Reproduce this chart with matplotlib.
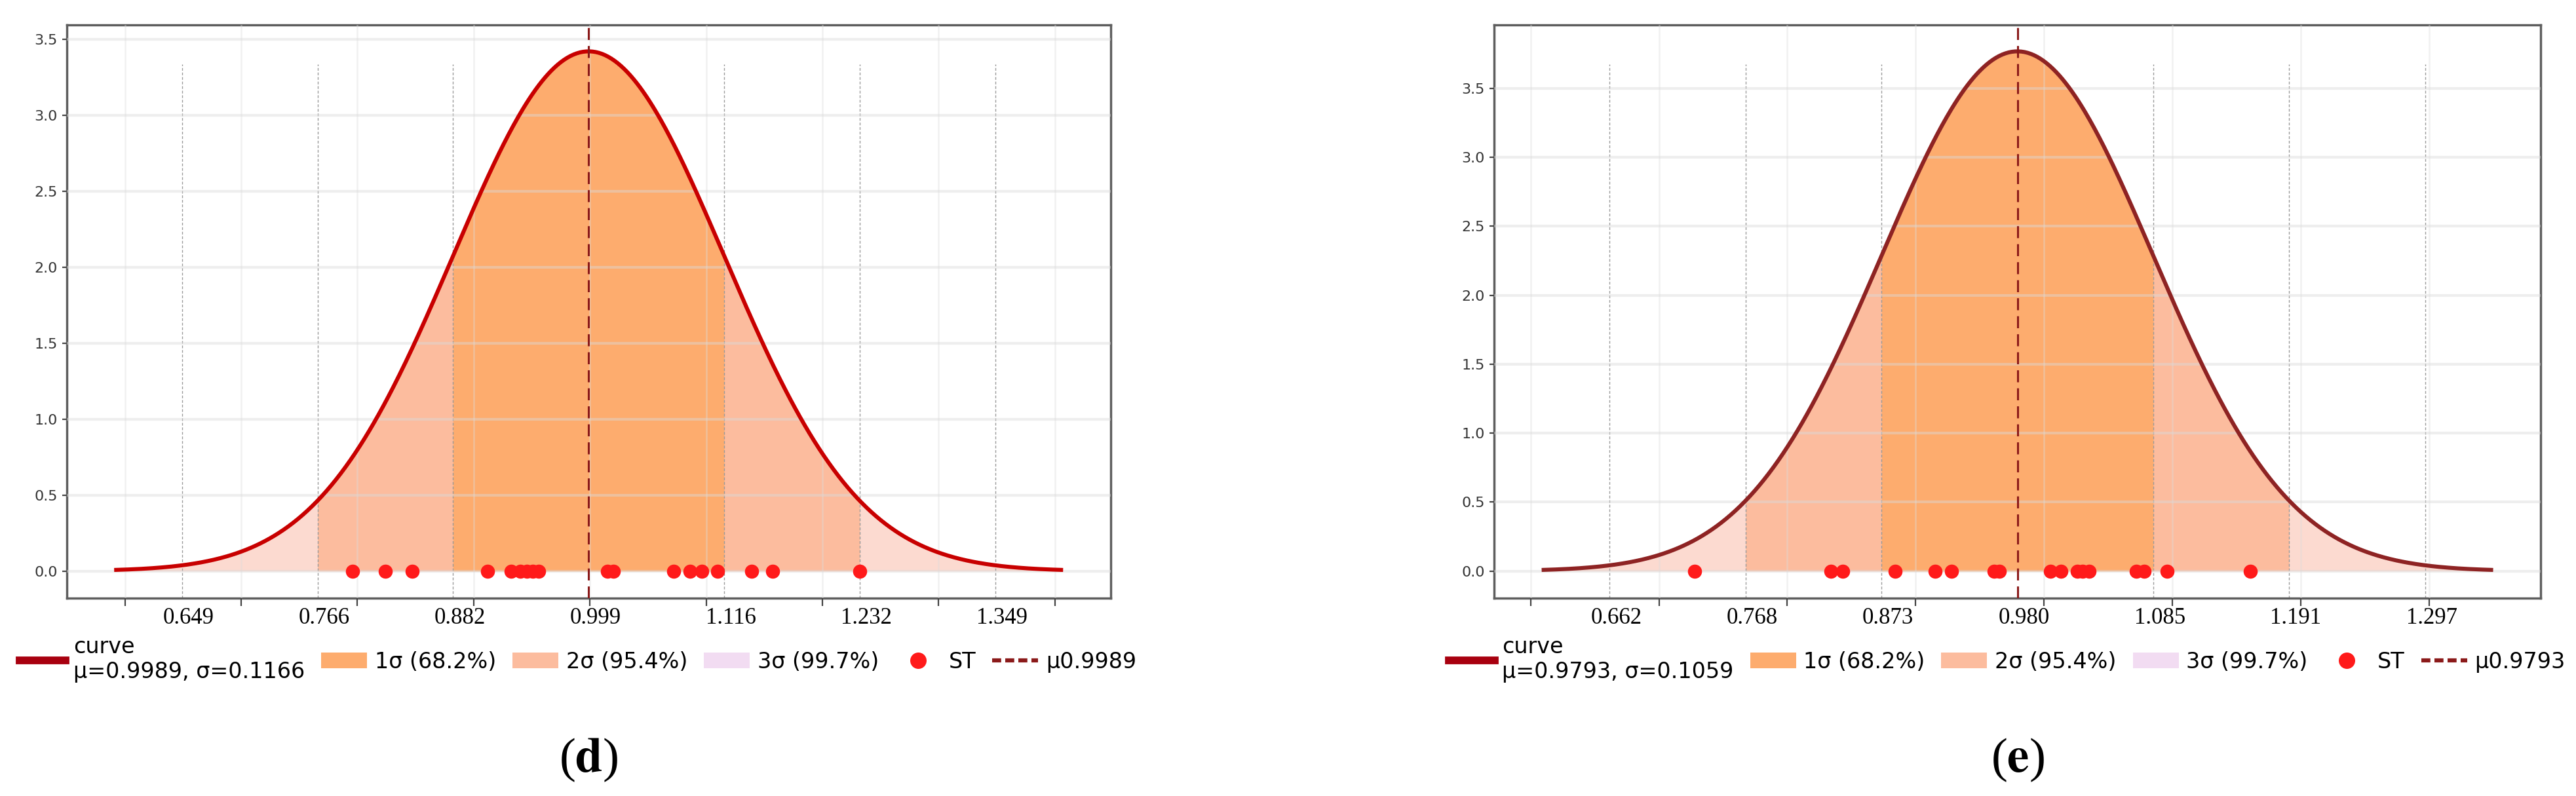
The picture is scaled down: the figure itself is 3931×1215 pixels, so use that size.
import numpy as np
import matplotlib
matplotlib.use("Agg")
from matplotlib import pyplot as plt
from matplotlib.lines import Line2D
from matplotlib.patches import Patch
from matplotlib.transforms import ScaledTranslation

plt.rcParams['mathtext.fontset'] = 'stix'

# panel (d)
mu_d = 0.9989
sigma_d = 0.1166
st_d = [0.796, 0.824, 0.847, 0.912, 0.932, 0.940, 0.946, 0.951, 0.956,
        1.015, 1.020, 1.072, 1.086, 1.096, 1.110, 1.139, 1.157, 1.232]
ticklabels_d = ["0.649", "0.766", "0.882", "0.999", "1.116", "1.232", "1.349"]

# panel (e)
mu_e = 0.9793
sigma_e = 0.1059
st_e = [0.728, 0.834, 0.843, 0.884, 0.915, 0.928, 0.961, 0.965, 1.005,
        1.013, 1.026, 1.030, 1.035, 1.072, 1.078, 1.096, 1.161]
ticklabels_e = ["0.662", "0.768", "0.873", "0.980", "1.085", "1.191", "1.297"]

band_labels = ["1σ (68.2%)", "2σ (95.4%)", "3σ (99.7%)"]

C1 = "#fdac6e"
C2 = "#fcbc9e"
C3 = "#fcdad0"
C3_LEG = "#f2dcf2"
MEAN_COLOR = "#8b1a1a"
DPI = 100
LEG_FONT = ['DejaVu Sans']


def pdf(x, mu, sigma):
    return np.exp(-0.5 * ((x - mu) / sigma) ** 2) / (sigma * np.sqrt(2 * np.pi))


def draw_panel(fig, ax, mu, sigma, st, ticklabels, curve_color, caption):
    peak = pdf(mu, mu, sigma)
    lo, hi = mu - 3.5 * sigma, mu + 3.5 * sigma
    x = np.linspace(lo, hi, 600)
    y = pdf(x, mu, sigma)

    # shaded bands (outer first)
    ax.fill_between(x, y, color=C3, lw=0, zorder=1)
    x2 = np.linspace(mu - 2 * sigma, mu + 2 * sigma, 400)
    ax.fill_between(x2, pdf(x2, mu, sigma), color=C2, lw=0, zorder=1.1)
    x1 = np.linspace(mu - sigma, mu + sigma, 300)
    ax.fill_between(x1, pdf(x1, mu, sigma), color=C1, lw=0, zorder=1.2)

    span = hi - lo
    ytop = 1.051 * peak
    ax.set_xlim(lo - 0.05 * span, hi + 0.05 * span)
    ax.set_ylim(-0.052 * peak, ytop)

    ks = np.arange(-3, 4)
    marks = mu + ks * sigma
    ax.vlines(marks[ks != 0], -0.052 * peak, 0.975 * peak, colors="#9a9a9a",
              linestyles=(0, (3, 2)), lw=1.0, zorder=2)

    ax.plot(x, y, color=curve_color, lw=4.4, zorder=3, solid_capstyle='butt')
    ax.axvline(mu, color=MEAN_COLOR, lw=2.2, ls=(0, (6, 3)), zorder=3)
    ax.plot(st, np.zeros(len(st)), 'o', color="#ff1a1a", ms=15.5, mew=0, zorder=4)

    # grid
    ax.set_axisbelow(False)
    ax.xaxis.grid(True, color="#dcdcdc", lw=1.8, alpha=0.4)
    ax.yaxis.grid(True, color="#dadada", lw=3.0, alpha=0.45)

    ax.set_xticks(np.arange(0.6, hi + 0.001, 0.1))
    ax.set_xticklabels([])
    ax.set_xticks(marks, minor=True)
    ax.set_xticklabels(ticklabels, minor=True, fontsize=25, family='Liberation Serif')
    ax.tick_params(axis='x', which='major', length=8.5, width=1.6, color="#444444")
    ax.tick_params(axis='x', which='minor', length=0, pad=10)
    for lab in ax.get_xticklabels(minor=True):
        lab.set_transform(lab.get_transform() + ScaledTranslation(10 / DPI, 0, fig.dpi_scale_trans))

    yt = np.arange(0, ytop, 0.5)
    ax.set_yticks(yt)
    ax.set_yticklabels([f"{v:.1f}" for v in yt])
    ax.tick_params(axis='y', length=5, width=1.6, color="#444444", labelsize=16,
                   labelcolor="#333333", pad=5)

    for sp in ax.spines.values():
        sp.set_color("#5e5e5e")
        sp.set_linewidth(2.5)

    handles = [
        Line2D([], [], color="#a8000f", lw=8.5),
        Patch(facecolor=C1, edgecolor='none'),
        Patch(facecolor=C2, edgecolor='none'),
        Patch(facecolor=C3_LEG, edgecolor='none'),
        Line2D([], [], ls='none', marker='o', ms=18, color="#ff1a1a", mew=0),
        Line2D([], [], color=MEAN_COLOR, lw=4.5, ls=(0, (2.2, 1.0))),
    ]
    labels = [f"curve\nμ={mu:.4f}, σ={sigma:.4f}"] + band_labels + ["ST", f"μ{mu:.4f}"]
    ax.legend(handles, labels, loc='center', bbox_to_anchor=(0.49, -0.107), ncol=6,
              frameon=False, prop={'family': LEG_FONT, 'size': 24}, handlelength=2.1,
              handletextpad=0.35, columnspacing=0.75, borderaxespad=0)

    pos = ax.get_position()
    fig.text(pos.x0 + pos.width / 2, 0.045, "(" + r"$\mathbf{" + caption + "}$" + ")",
             ha='center', va='center', fontsize=54, family='Liberation Serif')


fig = plt.figure(figsize=(39.31, 12.15), dpi=DPI)
ax_d = fig.add_axes([0.0259, 0.2486, 0.4052, 0.7202])
ax_e = fig.add_axes([0.5800, 0.2486, 0.4063, 0.7202])

draw_panel(fig, ax_d, mu_d, sigma_d, st_d, ticklabels_d, "#c80000", "d")
draw_panel(fig, ax_e, mu_e, sigma_e, st_e, ticklabels_e, "#8e2323", "e")

fig.savefig("out.png", dpi=DPI, facecolor="white")
